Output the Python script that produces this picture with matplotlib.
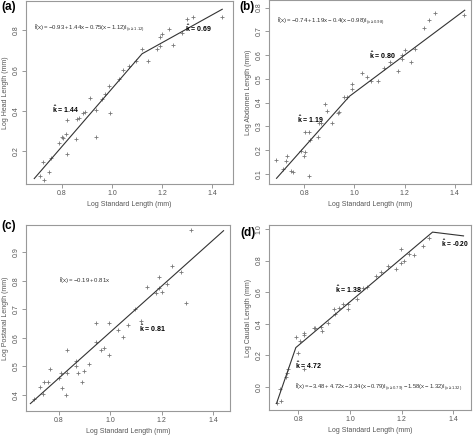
import numpy as np
import matplotlib
matplotlib.use('Agg')
import matplotlib.pyplot as plt

plt.rcParams['font.family'] = ['Liberation Sans', 'DejaVu Sans']
plt.rcParams['mathtext.fontset'] = 'custom'
plt.rcParams['mathtext.rm'] = 'Liberation Sans'
plt.rcParams['mathtext.it'] = 'Liberation Sans'
plt.rcParams['mathtext.bf'] = 'Liberation Sans:bold'

# Dados (log comprimento padrao x log comprimento das partes)
a_x = [0.712, 0.725, 0.729, 0.747, 0.755, 0.789, 0.800, 0.803, 0.817, 0.820, 0.820, 0.856, 0.859,
       0.867, 0.885, 0.892, 0.911, 0.937, 0.937, 0.959, 0.972, 0.988, 0.992, 1.028, 1.045, 1.067,
       1.095, 1.119, 1.144, 1.179, 1.191, 1.193, 1.201, 1.227, 1.245, 1.279, 1.301, 1.323, 1.441]
a_y = [0.076, 0.147, 0.055, 0.096, 0.165, 0.238, 0.269, 0.266, 0.284, 0.357, 0.185, 0.260, 0.359,
       0.365, 0.390, 0.392, 0.466, 0.405, 0.271, 0.458, 0.484, 0.521, 0.388, 0.559, 0.605, 0.623,
       0.648, 0.707, 0.646, 0.707, 0.764, 0.724, 0.779, 0.807, 0.729, 0.788, 0.858, 0.868, 0.868]

b_x = [0.689, 0.715, 0.727, 0.731, 0.748, 0.755, 0.788, 0.800, 0.803, 0.804, 0.821, 0.821, 0.822,
       0.857, 0.859, 0.866, 0.883, 0.891, 0.911, 0.936, 0.939, 0.959, 0.972, 0.989, 0.989, 1.031,
       1.050, 1.068, 1.095, 1.117, 1.143, 1.175, 1.190, 1.192, 1.202, 1.225, 1.241, 1.276, 1.298,
       1.322, 1.438]
b_y = [0.160, 0.121, 0.155, 0.173, 0.111, 0.106, 0.197, 0.177, 0.193, 0.278, 0.278, 0.090, 0.242,
       0.257, 0.315, 0.315, 0.394, 0.365, 0.315, 0.358, 0.361, 0.423, 0.423, 0.480, 0.459, 0.526,
       0.508, 0.491, 0.491, 0.546, 0.570, 0.532, 0.602, 0.585, 0.620, 0.571, 0.627, 0.716, 0.749,
       0.776, 0.770]

c_x = [0.703, 0.728, 0.738, 0.742, 0.760, 0.767, 0.800, 0.809, 0.814, 0.829, 0.831, 0.832, 0.867,
       0.867, 0.873, 0.892, 0.899, 0.918, 0.944, 0.945, 0.963, 0.976, 0.994, 0.995, 1.032, 1.051,
       1.069, 1.096, 1.118, 1.144, 1.176, 1.190, 1.190, 1.200, 1.222, 1.238, 1.273, 1.295, 1.313]
c_y = [0.384, 0.429, 0.404, 0.445, 0.445, 0.489, 0.460, 0.478, 0.423, 0.399, 0.556, 0.475, 0.520,
       0.500, 0.475, 0.445, 0.482, 0.509, 0.584, 0.652, 0.556, 0.563, 0.539, 0.652, 0.627, 0.604,
       0.644, 0.700, 0.658, 0.780, 0.758, 0.813, 0.774, 0.762, 0.788, 0.852, 0.830, 0.723, 0.978]

d_x = [0.716, 0.729, 0.733, 0.750, 0.755, 0.759, 0.792, 0.797, 0.806, 0.821, 0.821, 0.823, 0.859,
       0.864, 0.888, 0.891, 0.913, 0.939, 0.940, 0.958, 0.971, 0.992, 0.993, 1.029, 1.050, 1.067,
       1.100, 1.120, 1.146, 1.178, 1.196, 1.196, 1.209, 1.229, 1.248, 1.283, 1.306]
d_y = [-0.099, -0.011, -0.088, 0.061, 0.086, 0.116, 0.314, 0.217, 0.288, 0.339, 0.326, 0.114, 0.371,
       0.371, 0.377, 0.354, 0.406, 0.493, 0.463, 0.497, 0.524, 0.524, 0.493, 0.554, 0.625, 0.632,
       0.705, 0.726, 0.766, 0.747, 0.783, 0.874, 0.794, 0.842, 0.836, 0.895, 0.941]

# Retas ajustadas (pontos de quebra)
a_line_x = [0.69, 1.12, 1.44]
a_line_y = [0.064, 0.683, 0.904]
b_line_x = [0.69, 0.98, 1.44]
b_line_y = [0.081, 0.426, 0.789]
c_line_x = [0.69, 1.44]
c_line_y = [0.369, 0.976]
d_line_x = [0.715, 0.79, 1.32, 1.44]
d_line_y = [-0.105, 0.249, 0.980, 0.956]

W, H = 474, 436
fig = plt.figure(figsize=(W / 100, H / 100), dpi=100)

def caixa(l, t, r, b):
    return fig.add_axes([l / W, 1 - b / H, (r - l) / W, (b - t) / H])

ax_a = caixa(26, 1, 233, 184)
ax_b = caixa(269, 0, 471, 184)
ax_c = caixa(26, 225, 230, 411)
ax_d = caixa(269, 225, 471, 410)

paineis = [
    (ax_a, a_x, a_y, a_line_x, a_line_y, 'Log Head Length (mm)', (0.657, 1.483), (0.037, 0.945),
     [0.2, 0.4, 0.6, 0.8]),
    (ax_b, b_x, b_y, b_line_x, b_line_y, 'Log Abdomen Length (mm)', (0.66, 1.465), (0.057, 0.832),
     [0.1, 0.2, 0.3, 0.4, 0.5, 0.6, 0.7, 0.8]),
    (ax_c, c_x, c_y, c_line_x, c_line_y, 'Log Postanal Length (mm)', (0.673, 1.465), (0.343, 0.996),
     [0.4, 0.5, 0.6, 0.7, 0.8, 0.9]),
    (ax_d, d_x, d_y, d_line_x, d_line_y, 'Log Caudal Length (mm)', (0.686, 1.469), (-0.146, 1.025),
     [0.0, 0.2, 0.4, 0.6, 0.8, 1.0]),
]

cinza = '#555555'
for ax, x, y, lx, ly, ylab, xl, yl, yt in paineis:
    ax.plot(x, y, linestyle='none', marker='+', ms=3, mew=0.6, color='#777777')
    ax.plot(lx, ly, color='#333333', lw=0.8)
    ax.set_xlim(xl)
    ax.set_ylim(yl)
    ax.set_xticks([0.8, 1.0, 1.2, 1.4])
    ax.set_yticks(yt)
    ax.set_xticklabels(['%.1f' % v for v in [0.8, 1.0, 1.2, 1.4]])
    ax.set_yticklabels(['%.1f' % v for v in yt], rotation=90, va='center')
    ax.tick_params(length=3, width=0.6, pad=1.5, labelsize=5, colors='#888888', labelcolor=cinza)
    for s in ax.spines.values():
        s.set_color('#999999')
        s.set_linewidth(0.8)
    ax.set_xlabel('Log Standard Length (mm)', fontsize=5, color=cinza, labelpad=3)
    ax.set_ylabel(ylab, fontsize=5, color=cinza, labelpad=3)

# Rotulos dos paineis
fig.text(9 / W, 1 - 7 / H, '(a)', fontsize=8.5, fontweight='bold', ha='center', va='center')
fig.text(247 / W, 1 - 7 / H, '(b)', fontsize=8.5, fontweight='bold', ha='center', va='center')
fig.text(9 / W, 1 - 226 / H, '(c)', fontsize=8.5, fontweight='bold', ha='center', va='center')
fig.text(248 / W, 1 - 233 / H, '(d)', fontsize=8.5, fontweight='bold', ha='center', va='center')

fs = 4.3
ax_a.text(0.69, 0.81, r'$\hat{f}(x) = -0.93 + 1.44x - 0.75(x - 1.12)I_{(x \geq 1.12)}$',
          fontsize=fs, color='#333333', va='center')
ax_a.text(1.29, 0.807, r'$\mathbf{\hat{k}}$ = 0.69', fontsize=5, fontweight='bold', va='center')
ax_a.text(0.76, 0.41, r'$\mathbf{\hat{k}}$ = 1.44', fontsize=5, fontweight='bold', va='center')

ax_b.text(0.69, 0.745, r'$\hat{f}(x) = -0.74 + 1.19x - 0.4(x - 0.98)I_{(x \geq 0.98)}$',
          fontsize=fs, color='#333333', va='center')
ax_b.text(0.77, 0.33, r'$\mathbf{\hat{k}}$ = 1.19', fontsize=5, fontweight='bold', va='center')
ax_b.text(1.06, 0.60, r'$\mathbf{\hat{k}}$ = 0.80', fontsize=5, fontweight='bold', va='center')

ax_c.text(0.80, 0.80, r'$\hat{f}(x) = -0.19 + 0.81x$', fontsize=fs, color='#333333', va='center')
ax_c.text(1.11, 0.635, r'$\mathbf{\hat{k}}$ = 0.81', fontsize=5, fontweight='bold', va='center')

ax_d.text(0.785, 0.0, r'$\hat{f}(x) = -3.48 + 4.72x - 3.34(x - 0.79)I_{(x \geq 0.79)}'
          r' - 1.58(x - 1.32)I_{(x \geq 1.32)}$', fontsize=4.2, color='#333333', va='center')
ax_d.text(0.785, 0.14, r'$\mathbf{\hat{k}}$ = 4.72', fontsize=5, fontweight='bold', va='center')
ax_d.text(0.94, 0.62, r'$\mathbf{\hat{k}}$ = 1.38', fontsize=5, fontweight='bold', va='center')
ax_d.text(1.462, 0.91, r'$\mathbf{\hat{k}}$ = -0.20', fontsize=4.8, fontweight='bold',
          ha='right', va='center')

plt.savefig('out.png', dpi=100)
